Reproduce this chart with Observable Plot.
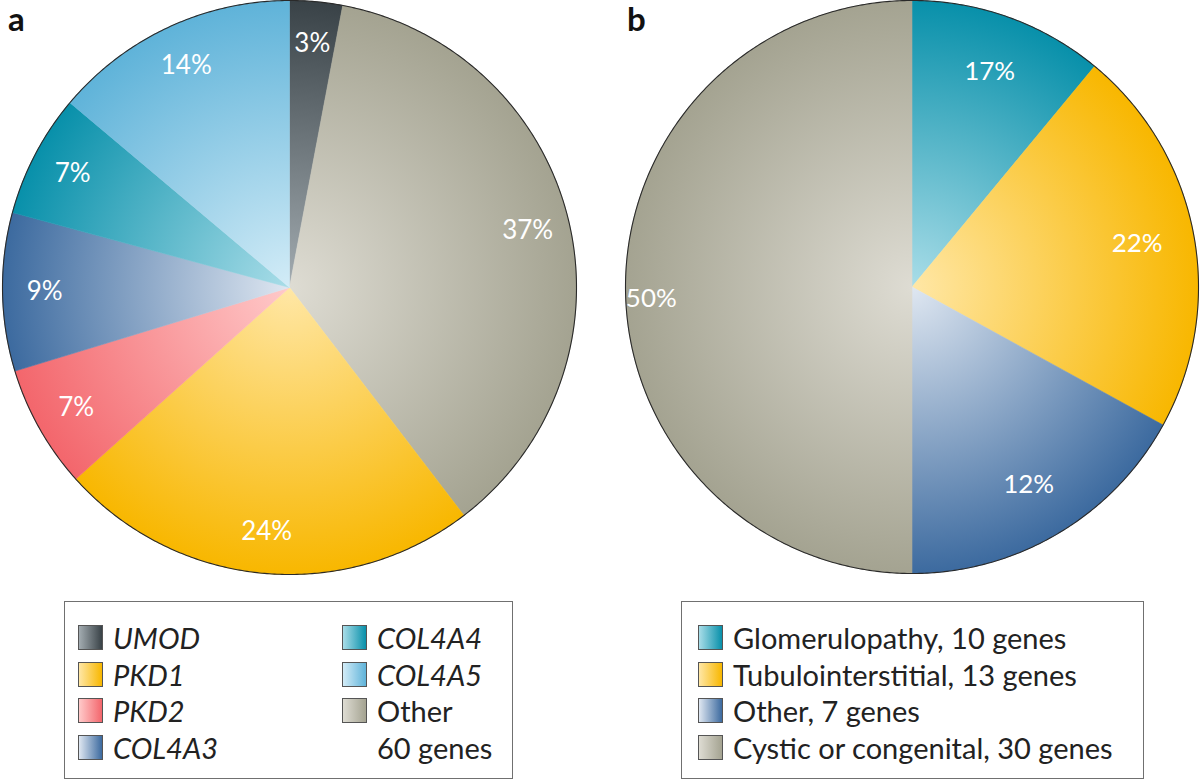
<!DOCTYPE html>
<html><head><meta charset="utf-8">
<script src="https://cdn.jsdelivr.net/npm/d3@7"></script>
<script src="https://cdn.jsdelivr.net/npm/@observablehq/plot@0.6"></script>
<style>
body{margin:0;background:#fff;font-family:Lato,"Open Sans",sans-serif;width:1200px;height:779px;overflow:hidden;position:relative;color:#222}
.pie{position:absolute;top:-2px}
.panel{position:absolute;font-weight:bold;font-size:33px;line-height:36px;color:#111;top:0px}
.legend{position:absolute;top:601px;height:178px;border:1.5px solid #707070;box-sizing:border-box}
.item{position:absolute;height:36.7px;display:flex;align-items:center;font-size:29px;white-space:nowrap}
.sw{width:25px;height:25px;border:1px solid #555;box-sizing:border-box;margin-right:10px;flex:none}
.it{font-style:italic}
</style></head><body>
<div id="pieA" class="pie"></div>
<div id="pieB" class="pie"></div>
<div class="panel" style="left:8px">a</div>
<div class="panel" style="left:627px">b</div>
<div id="legA" class="legend" style="left:64px;width:449px"></div>
<div id="legB" class="legend" style="left:681px;width:463px"></div>
<script>
// ---- data (panel a) ----
const genesA = ["UMOD", "Other", "PKD1", "PKD2", "COL4A3", "COL4A4", "COL4A5"];
const sharesA = [3, 37, 24, 7, 9, 7, 14];
const labelsA = ["3%", "37%", "24%", "7%", "9%", "7%", "14%"];
// ---- data (panel b) : slice sizes as drawn, printed labels ----
const groupsB = ["Glomerulopathy", "Tubulointerstitial", "Other", "Cystic or congenital"];
const sharesB = [11, 22, 17, 50];
const labelsB = ["17%", "22%", "12%", "50%"];
const genesB = [10, 13, 7, 30];

// ---- legend entries ----
const legendA = [
  {key: "UMOD", text: "UMOD", italic: true, col: 0, row: 0},
  {key: "PKD1", text: "PKD1", italic: true, col: 0, row: 1},
  {key: "PKD2", text: "PKD2", italic: true, col: 0, row: 2},
  {key: "COL4A3", text: "COL4A3", italic: true, col: 0, row: 3},
  {key: "COL4A4", text: "COL4A4", italic: true, col: 1, row: 0},
  {key: "COL4A5", text: "COL4A5", italic: true, col: 1, row: 1},
  {key: "Other", text: "Other", italic: false, col: 1, row: 2},
  {key: null, text: "60 genes", italic: false, col: 1, row: 3}
];

// ---- styles ----
const colorsA = {
  UMOD: ["#a3acb1", "#394247"],
  Other: ["#dedcd3", "#a4a391"],
  PKD1: ["#ffe7a6", "#f8b700"],
  PKD2: ["#ffcaca", "#f3666c"],
  COL4A3: ["#dfe7f1", "#3c6a9f"],
  COL4A4: ["#a9dde8", "#0890aa"],
  COL4A5: ["#d3ecf7", "#5fb3d9"]
};
const colorsB = {
  "Glomerulopathy": ["#a9dde8", "#0890aa"],
  "Tubulointerstitial": ["#ffe7a6", "#f8b700"],
  "Other": ["#dfe7f1", "#3c6a9f"],
  "Cystic or congenital": ["#dedcd3", "#a4a391"]
};

function slices(keys, shares, labels, prefix) {
  const total = d3.sum(shares);
  let acc = 0;
  const pts = [], labs = [];
  keys.forEach((k, i) => {
    const a0 = acc / total * 2 * Math.PI;
    acc += shares[i];
    const a1 = acc / total * 2 * Math.PI;
    const fill = `url(#${prefix}${i})`;
    pts.push({k, x: 0, y: 0, fill});
    const n = Math.max(2, Math.ceil((a1 - a0) / (Math.PI / 360)));
    for (let j = 0; j <= n; j++) {
      const a = a0 + (a1 - a0) * j / n;
      pts.push({k, x: Math.sin(a), y: Math.cos(a), fill});
    }
    pts.push({k, x: 0, y: 0, fill});
    const mid = (a0 + a1) / 2;
    labs.push({label: labels[i], mid, share: shares[i] / total});
  });
  return {pts, labs};
}

function drawPie(id, keys, shares, labels, colors, prefix, labelR, labelDy) {
  const {pts, labs} = slices(keys, shares, labels, prefix);
  const circle = d3.range(0, 721).map(j => ({x: Math.sin(j / 720 * 2 * Math.PI), y: Math.cos(j / 720 * 2 * Math.PI)}));
  const size = 578;
  const plot = Plot.plot({
    width: size, height: size, margin: 2,
    x: {domain: [-1, 1], axis: null},
    y: {domain: [-1, 1], axis: null},
    marks: [
      Plot.line(pts, {x: "x", y: "y", z: "k", fill: "fill", stroke: "fill", strokeWidth: 0.6}),
      Plot.line(circle, {x: "x", y: "y", stroke: "#2a2a2a", strokeWidth: 1.1, fill: "none"}),
      Plot.text(labs, {
        x: d => labelR(d) * Math.sin(d.mid),
        y: d => labelR(d) * Math.cos(d.mid) - labelDy(d),
        text: "label", fill: "white", fontSize: 26, fontFamily: "Lato, sans-serif"
      })
    ]
  });
  const xs = plot.scale("x"), ys = plot.scale("y");
  const cx = xs.apply(0), cy = ys.apply(0), r = xs.apply(1) - xs.apply(0);
  const defs = d3.select(plot).insert("defs", ":first-child");
  keys.forEach((k, i) => {
    const g = defs.append("radialGradient").attr("id", prefix + i)
      .attr("gradientUnits", "userSpaceOnUse").attr("cx", cx).attr("cy", cy).attr("r", r);
    g.append("stop").attr("offset", 0).attr("stop-color", colors[k][0]);
    g.append("stop").attr("offset", 1).attr("stop-color", colors[k][1]);
  });
  document.getElementById(id).appendChild(plot);
}

drawPie("pieA", genesA, sharesA, labelsA, colorsA, "ga", d => 0.853, d => 0);
drawPie("pieB", groupsB, sharesB, labelsB, colorsB, "gb", d => d.share >= 0.5 ? 0.91 : 0.80, d => d.share >= 0.5 ? 0.04 : 0);
document.getElementById("pieA").style.left = "0px";
document.getElementById("pieB").style.left = "623px";

function legend(id, entries, colors, colX) {
  const box = document.getElementById(id);
  entries.forEach(e => {
    const div = document.createElement("div");
    div.className = "item";
    div.style.left = colX[e.col] + "px";
    div.style.top = (17 + e.row * 36.7) + "px";
    const sw = document.createElement("div");
    sw.className = "sw";
    if (e.key) sw.style.background = `linear-gradient(to right, ${colors[e.key][0]}, ${colors[e.key][1]})`;
    else { sw.style.border = "none"; }
    div.appendChild(sw);
    const t = document.createElement("span");
    t.textContent = e.text;
    if (e.italic) t.className = "it";
    div.appendChild(t);
    box.appendChild(div);
  });
}
legend("legA", legendA, colorsA, [13, 277]);
const legendB = groupsB.map((g, i) => ({key: g, text: `${g}, ${genesB[i]} genes`, italic: false, col: 0, row: i}));
legend("legB", legendB, colorsB, [16]);
</script>
</body></html>
